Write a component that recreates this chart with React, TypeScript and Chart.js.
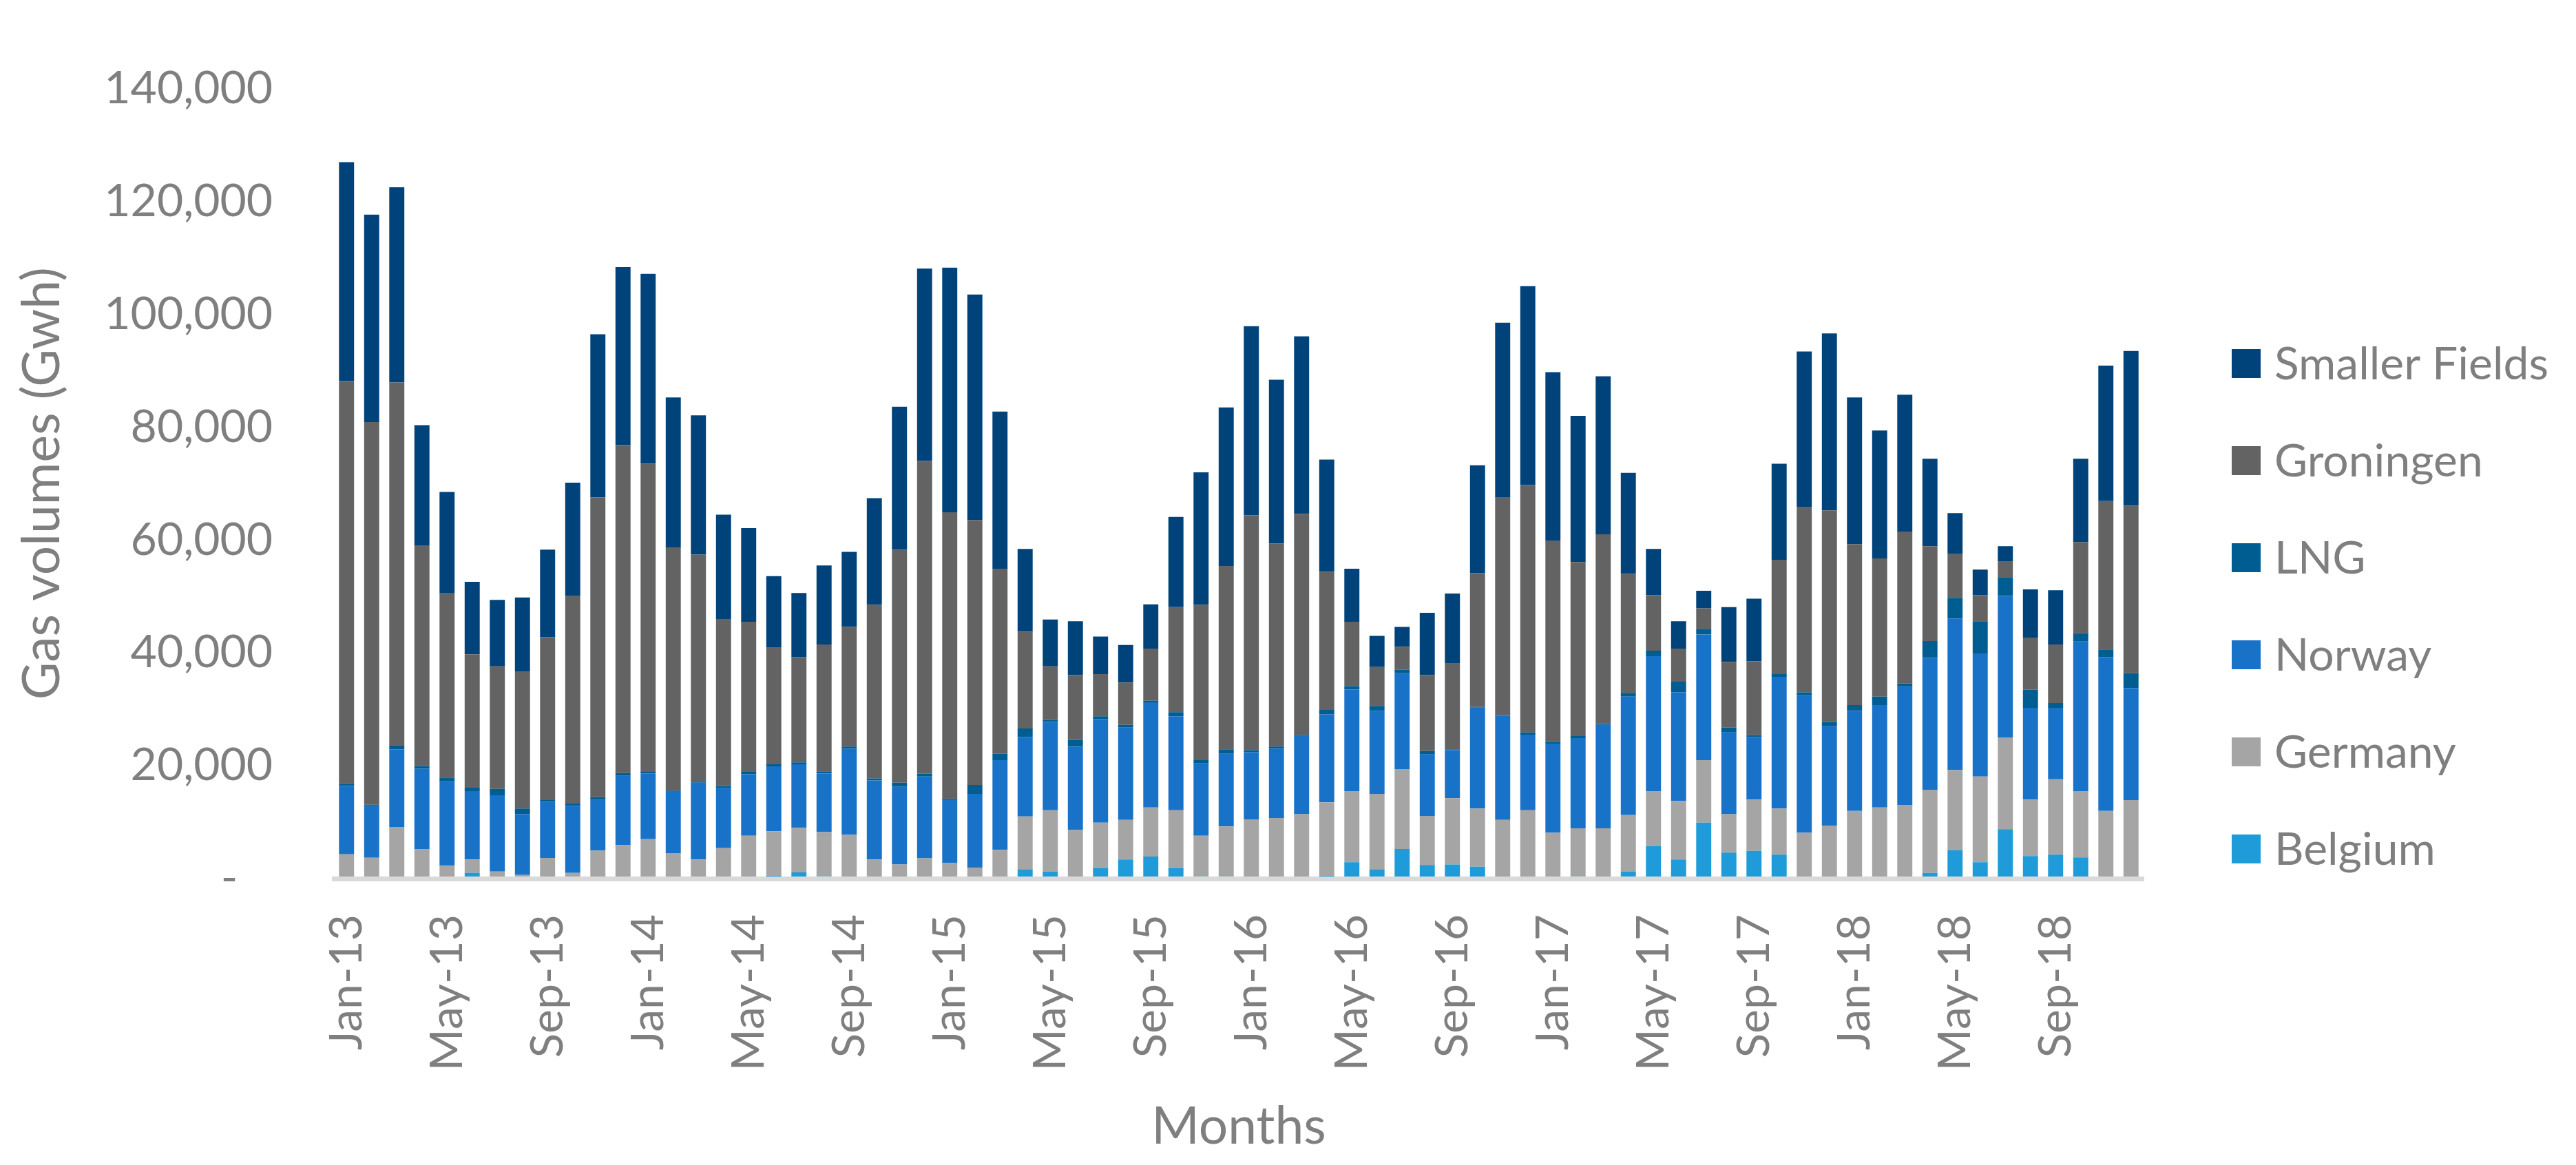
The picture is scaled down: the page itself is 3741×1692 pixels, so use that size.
import { useEffect, useRef } from "react";
import { Chart, registerables } from "chart.js";

Chart.register(...registerables);

// months on the category axis
const months = [
  "Jan-13", "Feb-13", "Mar-13", "Apr-13", "May-13", "Jun-13", "Jul-13", "Aug-13", "Sep-13", "Oct-13", "Nov-13", "Dec-13",
  "Jan-14", "Feb-14", "Mar-14", "Apr-14", "May-14", "Jun-14", "Jul-14", "Aug-14", "Sep-14", "Oct-14", "Nov-14", "Dec-14",
  "Jan-15", "Feb-15", "Mar-15", "Apr-15", "May-15", "Jun-15", "Jul-15", "Aug-15", "Sep-15", "Oct-15", "Nov-15", "Dec-15",
  "Jan-16", "Feb-16", "Mar-16", "Apr-16", "May-16", "Jun-16", "Jul-16", "Aug-16", "Sep-16", "Oct-16", "Nov-16", "Dec-16",
  "Jan-17", "Feb-17", "Mar-17", "Apr-17", "May-17", "Jun-17", "Jul-17", "Aug-17", "Sep-17", "Oct-17", "Nov-17", "Dec-17",
  "Jan-18", "Feb-18", "Mar-18", "Apr-18", "May-18", "Jun-18", "Jul-18", "Aug-18", "Sep-18", "Oct-18", "Nov-18", "Dec-18",
];

// gas volumes per source, GWh
const belgium = [
  0, 0, 0, 0, 0, 1050, 300, 0, 0, 0, 0, 0,
  0, 0, 0, 0, 0, 500, 1100, 400, 0, 0, 0, 0,
  0, 0, 0, 1600, 1250, 0, 1900, 3400, 3900, 1900, 400, 400,
  0, 0, 0, 500, 2900, 1600, 5250, 2400, 2500, 2100, 0, 0,
  0, 400, 0, 1250, 5750, 3400, 9900, 4600, 4900, 4250, 0, 0,
  0, 0, 0, 1000, 5000, 2900, 8750, 4000, 4250, 3750, 0, 0,
];

const germany = [
  4300, 3700, 9150, 5200, 2300, 2350, 950, 650, 3650, 1000, 4950, 5950,
  7000, 4500, 3400, 5400, 7600, 7900, 7900, 7850, 7750, 3400, 2500, 3600,
  2750, 1900, 5100, 9400, 10850, 8600, 8000, 7000, 8700, 10200, 7200, 8850,
  10500, 10750, 11400, 13000, 12600, 13400, 14150, 8700, 11750, 10300, 10400, 12100,
  8100, 8500, 8900, 10000, 9750, 10350, 11100, 6800, 9100, 8150, 8100, 9400,
  12000, 12600, 13000, 14750, 14250, 15200, 16250, 10000, 13350, 11750, 12000, 13900,
];

const norway = [
  12100, 9200, 13750, 14250, 14850, 12100, 13500, 10750, 10000, 11900, 9000, 12250,
  11650, 11000, 13600, 10600, 10900, 11500, 11250, 10350, 15250, 14000, 13750, 14500,
  11150, 13100, 15900, 14100, 15650, 14800, 18350, 16350, 18650, 16650, 12800, 12850,
  11900, 12250, 14000, 15600, 18000, 14750, 17000, 10900, 8550, 17900, 18500, 13400,
  15800, 16000, 18350, 21000, 23900, 19250, 22250, 14500, 11100, 23350, 24400, 17600,
  17750, 18150, 21000, 23350, 26850, 21800, 25100, 16250, 12500, 26500, 27250, 19850,
];

const lng = [
  400, 200, 750, 500, 750, 600, 1150, 1000, 250, 500, 500, 500,
  250, 100, 250, 400, 400, 350, 350, 400, 400, 350, 750, 500,
  200, 1600, 1100, 1500, 350, 1200, 500, 500, 250, 750, 600, 800,
  350, 400, 100, 800, 600, 850, 600, 600, 100, 100, 100, 400,
  350, 350, 250, 650, 1000, 1900, 1000, 850, 300, 500, 500, 750,
  1000, 1500, 600, 3000, 3650, 5700, 3300, 3250, 1000, 1500, 1350, 2650,
];

const groningen = [
  71400, 67800, 64250, 39100, 32750, 23650, 21700, 24250, 28900, 36750, 53100, 58150,
  54600, 43000, 40150, 29600, 26600, 20650, 18650, 22500, 21200, 30750, 41250, 55400,
  50800, 46900, 32800, 17150, 9500, 11500, 7500, 7500, 9250, 18600, 27500, 32500,
  41650, 36000, 39100, 24500, 11400, 6900, 4100, 13500, 15200, 23700, 38600, 43850,
  35650, 30850, 33500, 21100, 9850, 5850, 3650, 11650, 13100, 20250, 32900, 37500,
  28500, 24500, 26800, 16800, 7750, 4650, 2850, 9100, 10400, 16100, 26300, 29700,
];

const smallerFields = [
  38750, 36750, 34600, 21300, 17850, 12850, 11800, 13150, 15500, 20000, 28900, 31500,
  33650, 26650, 24700, 18500, 16600, 12700, 11350, 14000, 13300, 18900, 25350, 34100,
  43350, 40000, 27850, 14650, 8300, 9500, 6650, 6650, 7850, 16000, 23500, 28100,
  33500, 29000, 31500, 19850, 9400, 5500, 3500, 11000, 12400, 19150, 30900, 35250,
  29850, 25900, 28000, 17900, 8150, 4850, 3100, 9700, 11100, 17000, 27500, 31350,
  26000, 22650, 24350, 15500, 7250, 4500, 2650, 8650, 9600, 14800, 24000, 27400,
];

const TEXT = "#7f7f7f";
const FONT = "Lato";

// legend drawn in the right margin, top entry first (reverse of stack order)
const sideLegend = {
  id: "sideLegend",
  afterDraw(chart: Chart) {
    const { ctx } = chart;
    const sets = chart.data.datasets.slice().reverse();
    ctx.save();
    ctx.font = `66px ${FONT}`;
    ctx.textBaseline = "middle";
    ctx.textAlign = "left";
    sets.forEach((ds, i) => {
      const y = 528 + i * 141;
      ctx.fillStyle = ds.backgroundColor as string;
      ctx.fillRect(3241, y - 21, 42, 42);
      ctx.fillStyle = TEXT;
      ctx.fillText(String(ds.label), 3303, y + 2);
    });
    ctx.restore();
  },
};

export default function App() {
  const canvasRef = useRef<HTMLCanvasElement>(null);

  useEffect(() => {
    const ctx = canvasRef.current?.getContext("2d");
    if (!ctx) return;

    Chart.defaults.font.family = FONT;
    Chart.defaults.color = TEXT;

    const chart = new Chart(ctx, {
      type: "bar",
      data: {
        labels: months,
        datasets: [
          { label: "Belgium", data: belgium, backgroundColor: "#1e9bd8" },
          { label: "Germany", data: germany, backgroundColor: "#a5a5a5" },
          { label: "Norway", data: norway, backgroundColor: "#1872c8" },
          { label: "LNG", data: lng, backgroundColor: "#005d92" },
          { label: "Groningen", data: groningen, backgroundColor: "#636363" },
          { label: "Smaller Fields", data: smallerFields, backgroundColor: "#00427a" },
        ],
      },
      options: {
        animation: false,
        responsive: true,
        maintainAspectRatio: false,
        devicePixelRatio: 1,
        layout: { padding: { top: 62, right: 628, bottom: 0, left: 0 } },
        datasets: {
          bar: { barPercentage: 0.6, categoryPercentage: 1, borderWidth: 0 },
        },
        plugins: {
          legend: { display: false },
          tooltip: { enabled: false },
        },
        scales: {
          x: {
            stacked: true,
            grid: { display: false, drawTicks: false },
            border: { display: true, color: "#d9d9d9", width: 7, z: 1 },
            ticks: {
              autoSkip: false,
              maxRotation: 90,
              minRotation: 90,
              padding: 52,
              color: TEXT,
              font: { size: 66, family: FONT },
              callback: (_v, i) => (i % 4 === 0 ? months[i] : ""),
            },
            title: {
              display: true,
              text: "Months",
              color: TEXT,
              font: { size: 75, family: FONT },
              padding: { top: 0, bottom: 10 },
            },
            afterFit: (scale) => {
              scale.height = 416;
            },
          },
          y: {
            stacked: true,
            min: 0,
            max: 140000,
            grid: { display: false, drawTicks: false },
            border: { display: false },
            ticks: {
              stepSize: 20000,
              padding: 89,
              color: TEXT,
              font: { size: 66, family: FONT },
              callback: (v) => (Number(v) === 0 ? "-   " : Number(v).toLocaleString("en-US")),
            },
            title: {
              display: true,
              text: "Gas volumes (Gwh)",
              color: TEXT,
              font: { size: 75, family: FONT },
              padding: { top: 17, bottom: 0 },
            },
            afterFit: (scale) => {
              scale.width = 485;
            },
          },
        },
      },
      plugins: [sideLegend],
    });

    return () => {
      chart.destroy();
    };
  }, []);

  return (
    <div style={{ position: "absolute", left: 0, top: 0, width: 3741, height: 1692, background: "#fff" }}>
      <canvas ref={canvasRef} />
    </div>
  );
}
